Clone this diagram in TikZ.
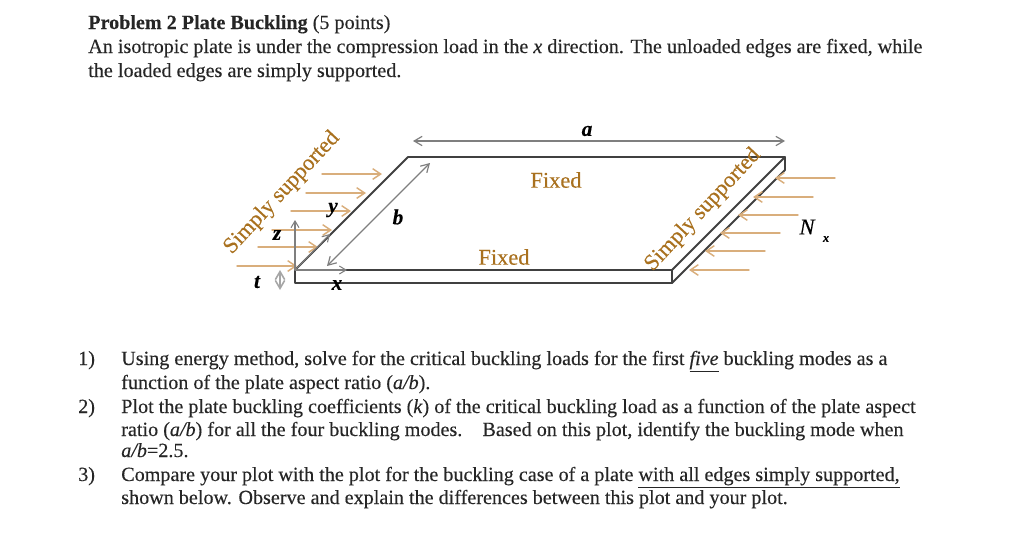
\documentclass[tikz,border=0pt]{standalone}
\usepackage{fontspec}
\setmainfont{Liberation Serif}[FakeBold=0.25]
\usetikzlibrary{arrows.meta}
\definecolor{brownlab}{HTML}{A9711F}
\definecolor{forcecol}{HTML}{D9AE7C}
\definecolor{dimcol}{HTML}{7F7F7F}
\tikzset{
	txt/.style={anchor=base west, inner sep=0pt, text=black!85, font=\fontsize{15.1}{18}\selectfont},
	lab/.style={inner sep=0pt, text=brownlab, font=\fontsize{16.8}{19}\selectfont},
	sym/.style={inner sep=0pt, font=\fontsize{16}{18}\selectfont\bfseries\itshape},
	force/.style={draw=forcecol, line width=1.1pt, -{Straight Barb[length=6pt,width=8pt]}},
	dimline/.style={draw=dimcol, line width=0.9pt, {Straight Barb[length=6pt,width=7pt]}-{Straight Barb[length=6pt,width=7pt]}},
	axisline/.style={draw=dimcol, line width=0.8pt, -{Straight Barb[length=5pt,width=6pt]}},
	edge/.style={draw=black!75, line width=1.4pt, line join=round}
}
\begin{document}
\begin{tikzpicture}[x=0.75pt, y=-0.75pt, line cap=round]
	\useasboundingbox (0,0) rectangle (1024,557);
	% heading
	\node[txt] (head) at (88,29) {\textbf{Problem 2 Plate Buckling} (5 points)};
	\node[txt] (introa) at (88,53) {An isotropic plate is under the compression load in the \textit{x} direction. The unloaded edges are fixed, while};
	\node[txt] (introb) at (88,77) {the loaded edges are simply supported.};
	% plate corners
	\coordinate (A) at (295,270);
	\coordinate (Ad) at (295,283);
	\coordinate (B) at (672,270);
	\coordinate (Bd) at (672,283);
	\coordinate (C) at (785,157);
	\coordinate (Cd) at (785,170);
	\coordinate (D) at (408,157);
	\draw[edge] (A) -- (D) -- (C) -- (B) -- (A) -- (Ad) -- (Bd) -- (Cd) -- (C);
	\draw[edge] (B) -- (Bd);
	% loads
	\foreach \y/\xa in {266/237,247/258,230/272,211/291,193/306,174/322}
		\draw[force] (\xa,\y) -- ++(60,0);
	\foreach \y/\xa in {178/835,197/813,215/798,233/780,251/765,270/749}
		\draw[force] (\xa,\y) -- ++(-60,0);
	% dimensions and axes
	\coordinate (aL) at (413,141);
	\coordinate (aR) at (785,141);
	\coordinate (bL) at (327,266);
	\coordinate (bR) at (430,163);
	\coordinate (tT) at (280,270);
	\coordinate (tB) at (280,290);
	\draw[dimline] (aL) -- (aR);
	\draw[dimline] (bL) -- (bR);
	\draw[dimline, draw=black!35, line width=1.2pt] (tT) -- (tB);
	\draw[axisline] (A) -- (295,220);
	\draw[axisline] (A) -- (347,270);
	\draw[axisline] (A) -- (330,234);
	% labels
	\node[lab] (fixa) at (556,180) {Fixed};
	\node[lab] (fixb) at (504,257) {Fixed};
	\node[lab, rotate=47] (ssa) at (282,193) {Simply supported};
	\node[lab, rotate=47] (ssb) at (703,210) {Simply supported};
	\node[sym] (la) at (587,131) {a};
	\node[sym] (lb) at (398,217) {b};
	\node[sym] (ly) at (333,210) {y};
	\node[sym] (lz) at (277,235) {z};
	\node[sym] (lx) at (337,285) {x};
	\node[sym] (lt) at (257,282) {t};
	\node[inner sep=0pt, font=\fontsize{17}{19}\selectfont\itshape] (lN) at (807,227) {N};
	\node[inner sep=0pt, font=\fontsize{9}{10}\selectfont\bfseries\itshape] (lNx) at (826,239) {x};
	% questions
	\node[txt] (numa) at (78,365) {1)};
	\node[txt] (qa) at (121,365) {Using energy method, solve for the critical buckling loads for the first \underline{\textit{five}} buckling modes as a};
	\node[txt] (qb) at (121,389) {function of the plate aspect ratio (\textit{a/b}).};
	\node[txt] (numb) at (78,413) {2)};
	\node[txt] (qc) at (121,413) {Plot the plate buckling coefficients (\textit{k}) of the critical buckling load as a function of the plate aspect};
	\node[txt] (qd) at (121,436) {ratio (\textit{a/b}) for all the four buckling modes.\quad Based on this plot, identify the buckling mode when};
	\node[txt] (qe) at (121,457) {\textit{a/b}=2.5.};
	\node[txt] (numc) at (78,481) {3)};
	\node[txt] (qf) at (121,481) {Compare your plot with the plot for the buckling case of a plate \underline{with all edges simply supported,}};
	\node[txt] (qg) at (121,504) {shown below. Observe and explain the differences between this plot and your plot.};
\end{tikzpicture}
\end{document}
